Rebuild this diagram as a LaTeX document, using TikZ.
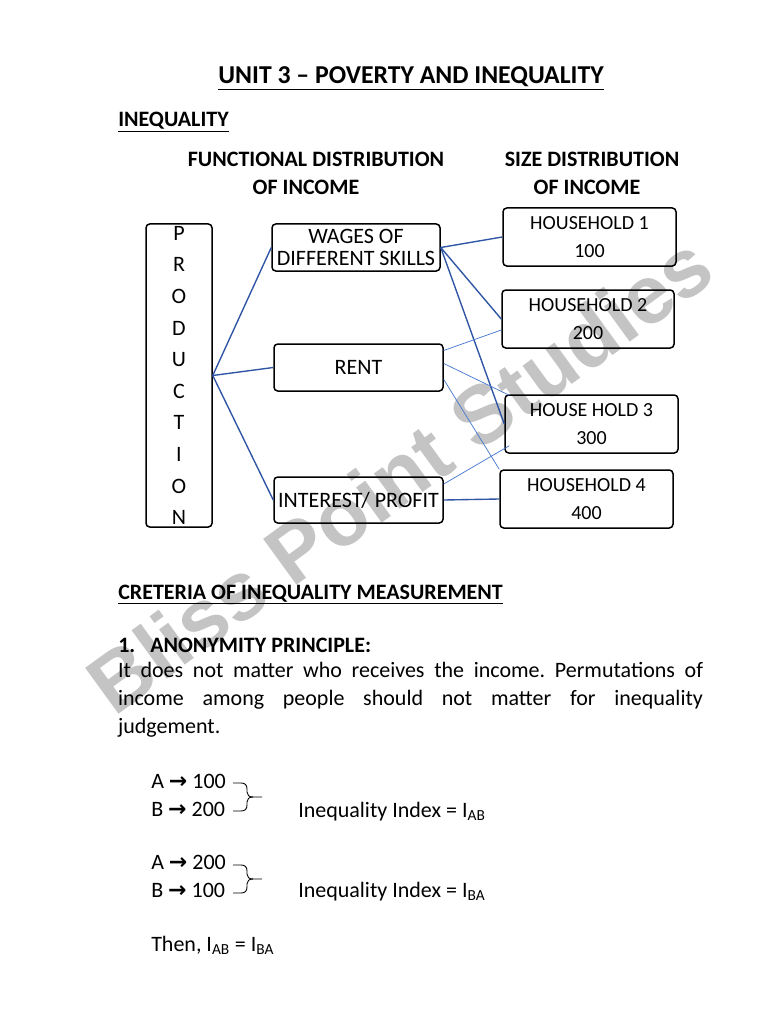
\documentclass[tikz,border=0pt]{standalone}
\usepackage{fontspec}
\setmainfont{Carlito}
\newfontfamily\wmfont{Liberation Sans}
\newfontfamily\arrfont{DejaVu Sans}
\usetikzlibrary{calc}
\frenchspacing

\definecolor{linkblue}{HTML}{2F55A4}
\definecolor{lightlink}{HTML}{4A7BD0}
\definecolor{wmgrey}{HTML}{C4C4C4}

\tikzset{
  box/.style 2 args={draw, rounded corners=3pt, line width=1.2pt, inner sep=0pt,
    align=center, minimum width=#1*0.8pt, minimum height=#2*0.8pt},
  head/.style={font=\bfseries\fontsize{17.6}{22}\selectfont},
  wire/.style={linkblue, line width=1.1pt},
  thinwire/.style={lightlink, line width=0.6pt},
  rbrace/.pic={
    \draw[line width=0.7pt] (0,0) -- (8,0) .. controls (12,0) and (14,2) .. (14,6) -- (14,9)
      .. controls (14,12) and (16,14) .. (20,14) -- (29,14);
    \draw[line width=0.7pt] (20,14) .. controls (16,14) and (14,16) .. (14,19) -- (14,22)
      .. controls (14,26) and (12,28) .. (8,28) -- (0,28);
  }
}

\begin{document}
\begin{tikzpicture}[x=0.8pt, y=-0.8pt, inner sep=0pt,
    font=\fontsize{17.6}{22}\selectfont]
  \fill[white] (0,0) rectangle (768,1024);
  \useasboundingbox (0,0) rectangle (768,1024);

  % watermark
  \node[rotate=36, text=wmgrey, font=\wmfont\bfseries\fontsize{66}{70}\selectfont]
    (mark) at (399,474) {Bliss Point Studies};

  % headings
  \node[anchor=base, font=\bfseries\fontsize{20.6}{24}\selectfont] (title) at (411,84)
    {\underline{UNIT 3 – POVERTY AND INEQUALITY}};
  \node[head, anchor=base west] (ineq) at (118,127) {\underline{INEQUALITY}};
  \node[head, anchor=base] (func1) at (316,167) {FUNCTIONAL DISTRIBUTION};
  \node[head, anchor=base] (func2) at (306,195) {OF INCOME};
  \node[head, anchor=base] (size1) at (592,167) {SIZE DISTRIBUTION};
  \node[head, anchor=base] (size2) at (587,195) {OF INCOME};

  % boxes
  \node[box={66}{303}, font=\fontsize{17.6}{25.3}\selectfont] (prod) at (179,375.5)
    {P\\R\\O\\D\\U\\C\\T\\I\\O\\N};
  \node[box={168}{47}, font=\fontsize{17.6}{17.6}\selectfont] (wages) at (356,247.5)
    {WAGES OF\\DIFFERENT SKILLS};
  \node[box={169}{47}] (rent) at (358.5,367.5) {RENT};
  \node[box={169}{46}] (intr) at (358.5,500) {INTEREST/ PROFIT};
  \node[box={173}{58}, font=\fontsize{16}{22.4}\selectfont] (hh1) at (589.5,237) {HOUSEHOLD 1\\100};
  \node[box={172}{58}, font=\fontsize{16}{22.4}\selectfont] (hh2) at (588,319) {HOUSEHOLD 2\\200};
  \node[box={173}{58}, font=\fontsize{16}{22.4}\selectfont] (hh3) at (591.5,424) {HOUSE HOLD 3\\300};
  \node[box={173}{58}, font=\fontsize{16}{22.4}\selectfont] (hh4) at (586.5,499) {HOUSEHOLD 4\\400};

  % connectors
  \draw[wire] (prod.east) -- (wages.west);
  \draw[wire] (prod.east) -- (rent.west);
  \draw[wire] (prod.east) -- (intr.west);
  \draw[wire] (wages.east) -- (hh1.west);
  \draw[wire] (wages.east) -- (hh2.west);
  \draw[wire] (wages.east) -- (hh3.west);
  \draw[thinwire] ($(rent.east)+(0,-17)$) -- ($(hh2.west)+(0,11)$);
  \draw[thinwire] ($(rent.east)+(0,-4)$) -- ($(hh3.north west)+(5,1)$);
  \draw[thinwire] ($(rent.east)+(0,12)$) -- (hh4.north west);
  \draw[thinwire] ($(intr.east)+(0,-16)$) -- ($(hh3.south west)+(5,-8)$);
  \draw[wire] (intr.east) -- (hh4.west);

  % criteria
  \node[head, anchor=base west] (crit) at (118,599)
    {\underline{CRETERIA OF INEQUALITY MEASUREMENT}};
  \node[head, anchor=base west] (num) at (118,652) {1.};
  \node[head, anchor=base west] (anon) at (150,652) {ANONYMITY PRINCIPLE:};
  \node[text width=468pt, align=justify, font=\fontsize{17.6}{22.4}\selectfont] (para) at (410.5,700)
    {It does not matter who receives the income. Permutations of\linebreak
     income among people should not matter for inequality\linebreak
     judgement.};

  \node[anchor=base west] (a1) at (151,788) {A {\arrfont\bfseries →} 100};
  \node[anchor=base west] (b1) at (151,816) {B {\arrfont\bfseries →} 200};
  \pic at (233,783) {rbrace};
  \node[anchor=base west] (idx1) at (298,817) {Inequality Index = I\textsubscript{AB}};

  \node[anchor=base west] (a2) at (151,869) {A {\arrfont\bfseries →} 200};
  \node[anchor=base west] (b2) at (151,897) {B {\arrfont\bfseries →} 100};
  \pic at (233,865) {rbrace};
  \node[anchor=base west] (idx2) at (298,897) {Inequality Index = I\textsubscript{BA}};

  \node[anchor=base west] (then) at (151,951) {Then, I\textsubscript{AB} = I\textsubscript{BA}};
\end{tikzpicture}
\end{document}
